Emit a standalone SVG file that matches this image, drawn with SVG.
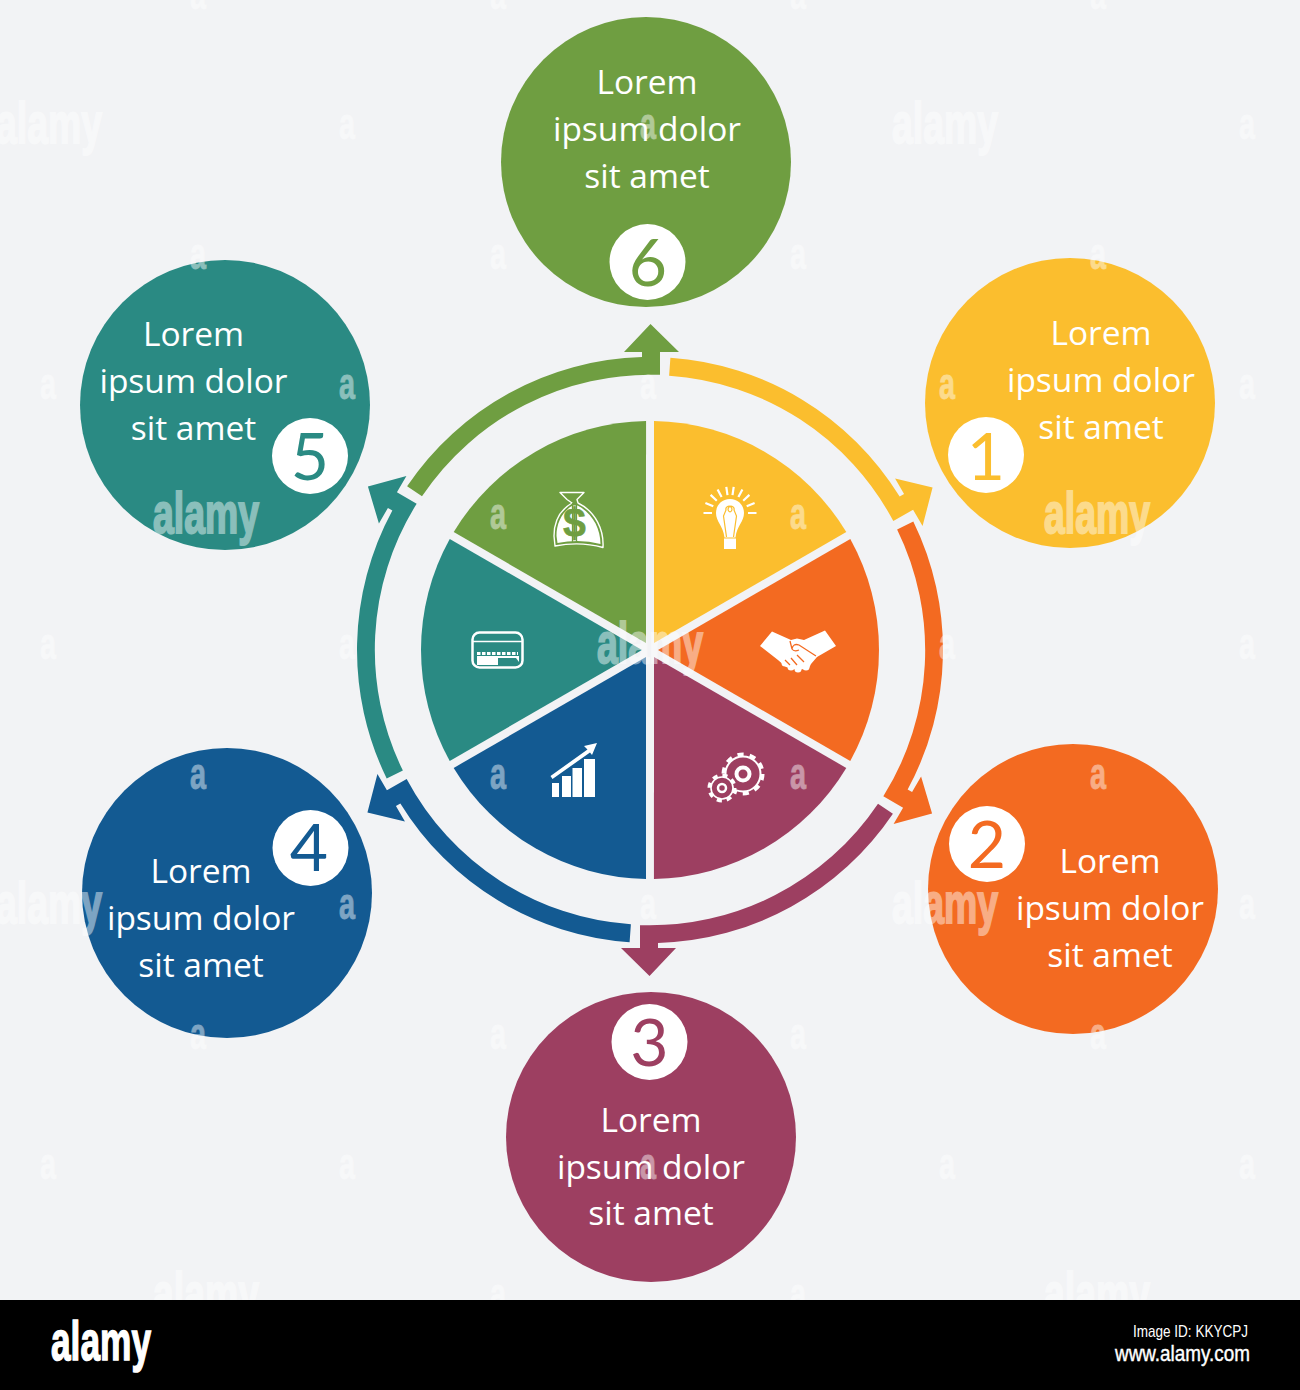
<svg xmlns="http://www.w3.org/2000/svg" xmlns:xlink="http://www.w3.org/1999/xlink" width="1300" height="1390" viewBox="0 0 1300 1390">
<style>
.t{font-family:"Open Sans","Liberation Sans",sans-serif;font-size:33.5px;fill:#fff;text-anchor:middle}
.d{font-family:"Lato","Open Sans",sans-serif;font-size:66px;text-anchor:middle}
.wa,.wm{font-family:"Liberation Sans",Arial,sans-serif;font-weight:700;fill:#fff;stroke:#fff;opacity:.45;text-anchor:middle}
.wa{font-size:45px;stroke-width:.8px}
.wm{font-size:58px;stroke-width:2px}
.w{fill:#fff}
.wl{fill:none;stroke:#fff}
.fl{font-family:"Liberation Sans",Arial,sans-serif;fill:#fff}
</style>
<defs>
<path id="wedge" d="M654 643.07V421.03A229 229 0 0 1 846.3 532.1Z"/>
<path id="arrow" d="M407.1 486.2A293 293 0 0 1 642 357.1V352H624L650.5 324L679 352H660V374.8A275 275 0 0 0 422 496.3Z"/>
<text id="wa" class="wa" textLength="16" lengthAdjust="spacingAndGlyphs">a</text>
<text id="wm" class="wm" textLength="106" lengthAdjust="spacingAndGlyphs">alamy</text>
</defs>
<rect width="1300" height="1390" fill="#f2f3f5"/>

<g id="pie">
<g id="sector-1" fill="#fbbe2e"><use xlink:href="#wedge" href="#wedge"/>
<path class="wl" stroke-width="2.200" d="M732.500 495.200L733.700 486.800M727.500 495.200L726.300 486.800M738.400 497.100L742.400 489.600M721.600 497.100L717.600 489.600M743.200 500.700L749.400 494.900M716.800 500.700L710.600 494.900M746.700 506.200L754.600 503.100M713.300 506.200L705.400 503.100M748 513H756.500M712 513H703.500"/>
<path class="w" d="M730 499C721 499 716 506 716 513C716 522 723 525 724.500 537.500H735.500C737 525 744 522 744 513C744 506 739 499 730 499ZM724 538.500H736V549H724Z"/>
<path fill="none" stroke="#fbbe2e" stroke-width="1.200" d="M726.500 537L723.500 516L726 510A3 3 0 1 1 730 512A3 3 0 1 1 734 510L736.500 516L733.500 537"/>
</g>
<g id="sector-2" fill="#f36a21"><use xlink:href="#wedge" href="#wedge" transform="rotate(60 650 650)"/>
<path class="w" d="M760 646L772 631.500L791 640L797 638.500L804 640L825 630.500L836 646L817 657L811 664L809 668L798 670L786 667L778 660Z"/>
<circle class="w" cx="785" cy="663" r="3.500"/><circle class="w" cx="791" cy="667" r="3.500"/><circle class="w" cx="798" cy="669" r="3.500"/><circle class="w" cx="806" cy="667" r="3.500"/>
<path fill="none" stroke="#f36a21" stroke-width="1.300" d="M816 656L799 645Q793 643 792 649Q794 652 799 650M792 649L790 641M785 660L790 665M791 658L797 665M797 655L804 662"/>
</g>
<g id="sector-3" fill="#9d3f61"><use xlink:href="#wedge" href="#wedge" transform="rotate(120 650 650)"/>
<circle class="wl" cx="743" cy="774" r="19" stroke-width="5" stroke-dasharray="6 5.940"/>
<circle cx="743" cy="774" r="17.500" fill="#9d3f61" stroke="#fff" stroke-width="2"/>
<circle cx="743" cy="774" r="6.500" fill="#9d3f61" stroke="#fff" stroke-width="4"/>
<circle class="wl" cx="722" cy="788" r="12.500" stroke-width="4" stroke-dasharray="5 4.820"/>
<circle cx="722" cy="788" r="11" fill="#9d3f61" stroke="#fff" stroke-width="1.600"/>
<circle cx="722" cy="788" r="4" fill="#9d3f61" stroke="#fff" stroke-width="2.500"/>
</g>
<g id="sector-4" fill="#135a92"><use xlink:href="#wedge" href="#wedge" transform="rotate(180 650 650)"/>
<path class="w" d="M552 783H559V797H552ZM562 776H571V797H562ZM572.500 768H582V797H572.500ZM584 759H595V797H584ZM597 743L584 746L587.500 749.500L550.500 776L552.500 779L590 752.500L592 755Z"/>
</g>
<g id="sector-5" fill="#2a8a83"><use xlink:href="#wedge" href="#wedge" transform="rotate(240 650 650)"/>
<rect class="wl" x="472.500" y="632.500" width="50" height="35" rx="7" stroke-width="2.500"/>
<path class="wl" stroke-width="1.500" d="M473 641.500H522"/>
<path class="wl" stroke-width="3" stroke-dasharray="3.500 1.500" d="M477 653.500H518"/>
<path class="w" d="M477 656H519V662L516 658H498V665H477Z"/>
</g>
<g id="sector-6" fill="#6f9e41"><use xlink:href="#wedge" href="#wedge" transform="rotate(300 650 650)"/>
<path class="wl" stroke-width="1.400" stroke-linejoin="round" d="M560 492.500H584L577 499.500L578 503C596 512 604 530 603 547.500Q580 541 555 546L554 536C554 522 560 510 572 503L567 499.500Z"/>
<path class="w" d="M572.500 505.500H577.500C592 513 600.500 528 600.500 544Q580 538.500 557.500 543L556.500 536C556.500 523 562 512 572.500 505.500Z"/>
<text x="574.500" y="537" font-family="Liberation Sans,Arial,sans-serif" font-size="41" font-weight="700" stroke="#6f9e41" stroke-width=".6" text-anchor="middle">$</text>
<path fill="none" stroke="#6f9e41" stroke-width="1.300" d="M572.500 503V543M576.500 503V543"/>
</g>
</g>

<g id="connectors">
<use xlink:href="#arrow" href="#arrow" fill="#6f9e41"/>
<use xlink:href="#arrow" href="#arrow" fill="#fbbe2e" transform="rotate(60 650 650)"/>
<use xlink:href="#arrow" href="#arrow" fill="#f36a21" transform="rotate(120 650 650)"/>
<use xlink:href="#arrow" href="#arrow" fill="#9d3f61" transform="rotate(180 650 650)"/>
<use xlink:href="#arrow" href="#arrow" fill="#135a92" transform="rotate(240 650 650)"/>
<use xlink:href="#arrow" href="#arrow" fill="#2a8a83" transform="rotate(300 650 650)"/>
</g>

<g id="node-6">
<circle cx="646" cy="162" r="145" fill="#6f9e41"/>
<text class="t" x="647" y="94">Lorem</text><text class="t" x="647" y="141">ipsum dolor</text><text class="t" x="647" y="188">sit amet</text>
<circle cx="647.500" cy="262" r="38" fill="#fff"/><text class="d" x="648" y="286" fill="#6f9e41">6</text>
</g>
<g id="node-1">
<circle cx="1070" cy="403" r="145" fill="#fbbe2e"/>
<text class="t" x="1101" y="345">Lorem</text><text class="t" x="1101" y="392">ipsum dolor</text><text class="t" x="1101" y="439">sit amet</text>
<circle cx="986" cy="455" r="38" fill="#fff"/><text class="d" x="986" y="480" fill="#fbbe2e">1</text>
</g>
<g id="node-2">
<circle cx="1073" cy="889" r="145" fill="#f36a21"/>
<text class="t" x="1110" y="873">Lorem</text><text class="t" x="1110" y="920">ipsum dolor</text><text class="t" x="1110" y="967">sit amet</text>
<circle cx="987" cy="844" r="38" fill="#fff"/><text class="d" x="987" y="868" fill="#f36a21">2</text>
</g>
<g id="node-3">
<circle cx="651" cy="1137" r="145" fill="#9d3f61"/>
<text class="t" x="651" y="1132">Lorem</text><text class="t" x="651" y="1179">ipsum dolor</text><text class="t" x="651" y="1225">sit amet</text>
<circle cx="649.500" cy="1042" r="38" fill="#fff"/><text class="d" x="649.500" y="1066" fill="#9d3f61">3</text>
</g>
<g id="node-4">
<circle cx="227" cy="893" r="145" fill="#135a92"/>
<text class="t" x="201" y="883">Lorem</text><text class="t" x="201" y="930">ipsum dolor</text><text class="t" x="201" y="977">sit amet</text>
<circle cx="310.500" cy="848" r="38" fill="#fff"/><text class="d" x="309" y="871" fill="#135a92">4</text>
</g>
<g id="node-5">
<circle cx="225" cy="405" r="145" fill="#2a8a83"/>
<text class="t" x="193.500" y="346">Lorem</text><text class="t" x="193.500" y="393">ipsum dolor</text><text class="t" x="193.500" y="440">sit amet</text>
<circle cx="310" cy="456" r="38" fill="#fff"/><text class="d" x="310" y="480" fill="#2a8a83">5</text>
</g>

<g id="watermark">
<use href="#wa" xlink:href="#wa" x="198" y="9"/><use href="#wa" xlink:href="#wa" x="498" y="9"/><use href="#wa" xlink:href="#wa" x="798" y="9"/><use href="#wa" xlink:href="#wa" x="1098" y="9"/>
<use href="#wa" xlink:href="#wa" x="347" y="139"/><use href="#wa" xlink:href="#wa" x="648" y="139"/><use href="#wa" xlink:href="#wa" x="1247" y="139"/><use href="#wm" xlink:href="#wm" x="49" y="143"/><use href="#wm" xlink:href="#wm" x="945" y="143"/>
<use href="#wa" xlink:href="#wa" x="198" y="269"/><use href="#wa" xlink:href="#wa" x="498" y="269"/><use href="#wa" xlink:href="#wa" x="798" y="269"/><use href="#wa" xlink:href="#wa" x="1098" y="269"/>
<use href="#wa" xlink:href="#wa" x="48" y="399"/><use href="#wa" xlink:href="#wa" x="347" y="399"/><use href="#wa" xlink:href="#wa" x="648" y="399"/><use href="#wa" xlink:href="#wa" x="947" y="399"/><use href="#wa" xlink:href="#wa" x="1247" y="399"/>
<use href="#wa" xlink:href="#wa" x="498" y="529"/><use href="#wa" xlink:href="#wa" x="798" y="529"/><use href="#wm" xlink:href="#wm" x="206" y="533"/><use href="#wm" xlink:href="#wm" x="1097" y="533"/>
<use href="#wa" xlink:href="#wa" x="48" y="659"/><use href="#wa" xlink:href="#wa" x="347" y="659"/><use href="#wa" xlink:href="#wa" x="947" y="659"/><use href="#wa" xlink:href="#wa" x="1247" y="659"/><use href="#wm" xlink:href="#wm" x="650" y="663"/>
<use href="#wa" xlink:href="#wa" x="198" y="789"/><use href="#wa" xlink:href="#wa" x="498" y="789"/><use href="#wa" xlink:href="#wa" x="798" y="789"/><use href="#wa" xlink:href="#wa" x="1098" y="789"/>
<use href="#wa" xlink:href="#wa" x="347" y="919"/><use href="#wa" xlink:href="#wa" x="648" y="919"/><use href="#wa" xlink:href="#wa" x="1247" y="919"/><use href="#wm" xlink:href="#wm" x="49" y="923"/><use href="#wm" xlink:href="#wm" x="945" y="923"/>
<use href="#wa" xlink:href="#wa" x="198" y="1049"/><use href="#wa" xlink:href="#wa" x="498" y="1049"/><use href="#wa" xlink:href="#wa" x="798" y="1049"/><use href="#wa" xlink:href="#wa" x="1098" y="1049"/>
<use href="#wa" xlink:href="#wa" x="48" y="1179"/><use href="#wa" xlink:href="#wa" x="347" y="1179"/><use href="#wa" xlink:href="#wa" x="648" y="1179"/><use href="#wa" xlink:href="#wa" x="947" y="1179"/><use href="#wa" xlink:href="#wa" x="1247" y="1179"/>
<use href="#wa" xlink:href="#wa" x="498" y="1309"/><use href="#wa" xlink:href="#wa" x="798" y="1309"/><use href="#wm" xlink:href="#wm" x="206" y="1313"/><use href="#wm" xlink:href="#wm" x="1097" y="1313"/>
</g>

<g id="footer">
<rect y="1300" width="1300" height="90" fill="#000"/>
<text class="fl" x="51" y="1360" font-size="56" font-weight="700" stroke="#fff" stroke-width="1.500" textLength="100" lengthAdjust="spacingAndGlyphs">alamy</text>
<text class="fl" x="1133" y="1337" font-size="17" textLength="115" lengthAdjust="spacingAndGlyphs">Image ID: KKYCPJ</text>
<text class="fl" x="1115" y="1361" font-size="22" textLength="135" stroke="#fff" stroke-width=".4" lengthAdjust="spacingAndGlyphs">www.alamy.com</text>
</g>
</svg>
